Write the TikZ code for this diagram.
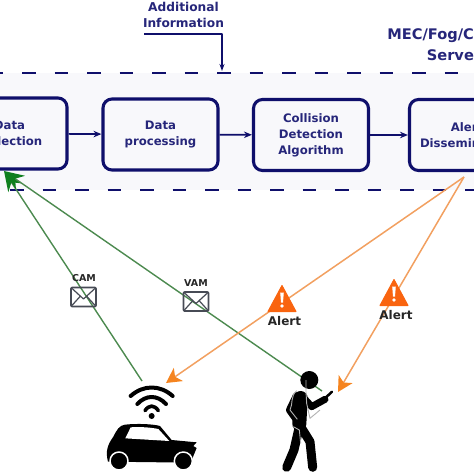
\documentclass[tikz,border=0pt]{standalone}
\usepackage{fontspec}
\setmainfont{DejaVu Sans}
\usetikzlibrary{arrows.meta}
\definecolor{navyline}{HTML}{0F0F6B}
\definecolor{navytext}{HTML}{26267A}
\definecolor{bandfill}{HTML}{F8F8FB}
\definecolor{greenlink}{HTML}{4C8A4F}
\definecolor{greenhead}{HTML}{0E7F1E}
\definecolor{orangelink}{HTML}{F2A060}
\definecolor{orangehead}{HTML}{F5841F}
\definecolor{alertfill}{HTML}{F9640F}
\definecolor{maildraw}{HTML}{474B55}
\tikzset{
	stagebox/.style={draw=navyline, line width=3.1pt, rounded corners=9pt, minimum width=115pt, minimum height=71pt, align=center, text=navytext, font=\fontsize{11.7}{16}\selectfont\bfseries, inner sep=0pt},
	flow/.style={draw=navyline, line width=1.7pt, -{Stealth[length=8pt,width=6.5pt]}},
	bandline/.style={draw=navyline, line width=2pt, dash pattern=on 13.5pt off 19pt},
	infotext/.style={text=navytext, align=center, font=\fontsize{12.2}{16}\selectfont\bfseries},
	servertext/.style={text=navytext, font=\fontsize{14.6}{18}\selectfont\bfseries, inner sep=0pt},
	tagtext/.style={text=black!85, font=\fontsize{9.5}{10}\selectfont\bfseries, inner sep=0pt},
	alerttext/.style={text=black!85, font=\fontsize{12}{12}\selectfont\bfseries, inner sep=0pt},
	greenlink/.style={draw=greenlink, line width=1.4pt, -{Stealth[length=20pt,width=16pt,color=greenhead]}},
	orangelink/.style={draw=orangelink, line width=1.5pt, -{Stealth[length=15pt,width=16pt,inset=4pt,color=orangehead]}},
	pics/mailicon/.style={code={
		\draw[maildraw, line width=1.7pt, rounded corners=1pt] (-12.5,-9.5) rectangle (12.5,9.5);
		\draw[maildraw, line width=1.2pt] (-12.5,-9.5) -- (0,2) -- (12.5,-9.5) (-12.5,9.5) -- (-3,-1) (12.5,9.5) -- (3,-1);
	}},
	pics/alertsign/.style={code={
		\fill[alertfill, draw=alertfill, line width=1pt, line join=round] (0,-13) -- (14,13) -- (-14,13) -- cycle;
		\fill[white] (-1.8,-6) -- (1.8,-6) -- (1,4) -- (-1,4) -- cycle;
		\fill[white] (0,7.5) circle (1.9);
	}},
}
\begin{document}
\begin{tikzpicture}[x=1pt, y=-1pt, line join=round, line cap=butt]
	\useasboundingbox (0,0) rectangle (474,474);
	\coordinate (BandNW) at (0,73);
	\coordinate (BandNE) at (474,73);
	\coordinate (BandSW) at (0,190);
	\coordinate (BandSE) at (474,190);
	\coordinate (Hub) at (464,177);
	\coordinate (CollectIn) at (4,171);
	\coordinate (CarOut) at (142,381);
	\coordinate (CarIn) at (166,383);
	\coordinate (WalkerOut) at (322,391);
	\coordinate (WalkerIn) at (338,392);
	\coordinate (InfoStart) at (144,34);
	\coordinate (InfoBend) at (222,34);
	\coordinate (InfoEnd) at (222,71);

	\fill[bandfill] (BandNW) rectangle (BandSE);
	\draw[bandline, dash phase=10.5pt] (BandNW) -- (BandNE);
	\draw[bandline, dash phase=22.5pt] (BandSW) -- (BandSE);

	\node[stagebox] (collect) at (9.5,133.5) {Data\\Collection};
	\node[stagebox] (process) at (160.5,134.5) {Data\\processing};
	\node[stagebox] (detect) at (311,135) {Collision\\Detection\\Algorithm};
	\node[stagebox] (alert) at (467,135) {Alert\\Dissemination};

	\draw[flow] (collect) -- (process);
	\draw[flow] (process) -- (detect);
	\draw[flow] (detect) -- (alert);

	\node[infotext] (info) at (183.5,15) {Additional\\Information};
	\draw[navyline, line width=1.3pt, -{Stealth[length=7pt,width=5pt]}] (InfoStart) -- (InfoBend) -- (InfoEnd);
	\node[servertext] (mec) at (448.5,36) {MEC/Fog/Cloud};
	\node[servertext] (server) at (454,55) {Server};

	\draw[greenlink] (CarOut) -- (CollectIn);
	\draw[greenlink] (WalkerOut) -- (CollectIn);
	\draw[orangelink] (Hub) -- (CarIn);
	\draw[orangelink] (Hub) -- (WalkerIn);

	\pic at (83.5,297) {mailicon};
	\pic at (196,301.5) {mailicon};
	\node[tagtext] (cam) at (84,278.5) {CAM};
	\node[tagtext] (vam) at (196,283) {VAM};

	\pic at (282,298.5) {alertsign};
	\pic at (394,292.5) {alertsign};
	\node[alerttext] (alerta) at (284.5,321) {Alert};
	\node[alerttext] (alertb) at (396,315) {Alert};

	\begin{scope}[shift={(100,380)}, x=0.3333pt, y=-0.3333pt]
		\fill (155,108) circle (9);
		\draw[line width=4pt, line cap=round] (92,48) .. controls (130,14) and (180,14) .. (218,48);
		\draw[line width=4pt, line cap=round] (112,72) .. controls (138,44) and (172,44) .. (198,72);
		\draw[line width=3.6pt, line cap=round] (135,92) .. controls (147,74) and (163,74) .. (175,92);
		\fill (24,245) .. controls (16,215) and (22,195) .. (40,170) .. controls (50,150) and (58,136) .. (75,134) .. controls (110,130) and (160,132) .. (180,138) -- (215,180) -- (290,187) -- (280,198) -- (290,204) -- (272,248) -- cycle;
		\fill[white] (76,175) -- (92,142) .. controls (120,140) and (150,142) .. (175,147) -- (208,183) -- cycle;
		\fill[draw=white, line width=1.5pt] (57,243) circle (27);
		\fill[draw=white, line width=1.5pt] (250,243) circle (27);
	\end{scope}

	\begin{scope}[shift={(280,360)}, x=0.3333pt, y=-0.3333pt]
		\fill (88,60) circle (27);
		\draw[line width=8pt, line cap=round] (50,108) -- (30,150) -- (55,185);
		\draw[line width=14pt, line cap=round] (62,114) -- (58,192);
		\draw[line width=9pt, line cap=round] (58,200) -- (42,270) -- (20,322);
		\draw[line width=9pt, line cap=round] (62,200) -- (90,245) -- (98,322);
		\draw[line width=7pt, line cap=round] (75,118) -- (95,140) -- (135,118);
		\draw[line width=2.5pt, line cap=round] (135,115) -- (156,95);
		\draw[white!70!black, line width=0.9pt] (78,60) -- (78,95) -- (80,130) -- (90,175) -- (120,150) (50,92) .. controls (30,110) and (40,130) .. (30,150) -- (52,178) (40,200) -- (58,210) -- (62,250);
	\end{scope}
\end{tikzpicture}
\end{document}
